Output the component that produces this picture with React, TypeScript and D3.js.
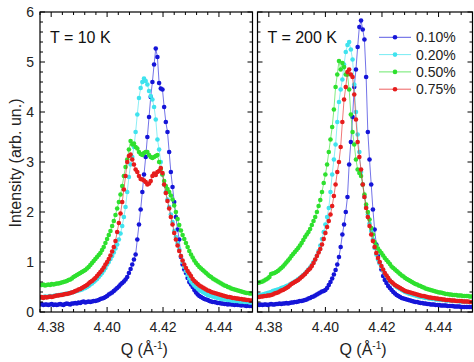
import React from "react";
import * as d3 from "d3";

// Q grid (Å^-1): uniform measurement step
const qStart = 4.376;
const qStep = 0.0006;
const nPts = 127;
const Q = d3.range(nPts).map((i) => +(qStart + i * qStep).toFixed(4));

const seriesNames = ["0.10%", "0.20%", "0.50%", "0.75%"];
const seriesColors = ["#1515d8", "#3fe3ee", "#2ee02e", "#e61c1c"];

// T = 10 K
const b10 = [
  0.15,0.16,0.14,0.15,0.15,0.14,0.15,0.16,0.14,0.15,0.14,
  0.15,0.16,0.15,0.14,0.16,0.17,0.16,0.15,0.17,0.17,
  0.18,0.17,0.19,0.18,0.2,0.21,0.19,0.2,0.21,0.2,
  0.21,0.22,0.22,0.23,0.24,0.26,0.27,0.28,0.3,0.32,
  0.35,0.37,0.39,0.42,0.45,0.48,0.51,0.55,0.58,0.61,
  0.65,0.7,0.78,0.86,0.95,1.05,1.15,1.45,1.75,2.05,
  2.4,2.75,3.1,3.5,3.9,4.3,4.6,4.95,5.27,5.1,
  4.58,4.47,4.45,4.1,3.8,3.6,3.2,2.8,2.5,2.2,
  1.9,1.65,1.45,1.1,0.95,0.85,0.78,0.68,0.6,0.55,
  0.5,0.44,0.39,0.35,0.32,0.3,0.28,0.26,0.25,0.24,
  0.22,0.21,0.2,0.2,0.19,0.18,0.18,0.17,0.17,0.16,
  0.16,0.15,0.16,0.15,0.15,0.14,0.15,0.14,0.14,0.13,0.14,0.13,0.12,0.13,0.12,0.12,
];
const c10 = [
  0.3,0.29,0.3,0.31,0.3,0.31,0.32,0.31,0.32,0.33,0.33,
  0.34,0.34,0.35,0.35,0.36,0.37,0.37,0.38,0.39,0.4,
  0.41,0.42,0.43,0.44,0.45,0.47,0.48,0.5,0.52,0.55,
  0.57,0.6,0.63,0.66,0.7,0.74,0.78,0.83,0.88,0.95,
  1.0,1.06,1.12,1.19,1.27,1.35,1.45,1.57,1.72,1.9,
  2.1,2.4,2.7,2.95,3.1,3.3,3.6,3.95,4.28,4.48,
  4.6,4.67,4.62,4.55,4.42,4.32,4.25,4.1,3.85,3.45,
  3.25,3.0,2.75,2.55,2.4,2.25,2.1,1.95,1.8,1.62,
  1.5,1.38,1.25,1.12,1.0,0.9,0.82,0.74,0.67,0.61,
  0.57,0.53,0.5,0.47,0.44,0.42,0.4,0.38,0.36,0.34,
  0.33,0.32,0.31,0.3,0.29,0.28,0.27,0.26,0.26,0.25,
  0.25,0.24,0.24,0.23,0.23,0.22,0.22,0.22,0.21,0.21,0.21,0.2,0.2,0.2,0.19,0.19,
];
const g10 = [
  0.55,0.54,0.55,0.53,0.54,0.55,0.54,0.56,0.55,0.56,0.57,
  0.57,0.58,0.59,0.6,0.61,0.62,0.64,0.65,0.67,0.7,
  0.72,0.74,0.76,0.78,0.8,0.82,0.84,0.87,0.9,0.94,
  0.98,1.02,1.06,1.1,1.14,1.18,1.24,1.3,1.38,1.46,
  1.54,1.62,1.72,1.82,1.94,2.07,2.2,2.35,2.52,2.72,
  2.9,3.05,3.25,3.42,3.35,3.37,3.3,3.27,3.2,3.16,
  3.14,3.18,3.2,3.2,3.14,3.1,3.08,3.1,3.12,3.14,
  3.0,2.86,2.75,2.62,2.52,2.46,2.4,2.33,2.25,2.13,
  2.0,1.86,1.74,1.63,1.54,1.46,1.38,1.3,1.22,1.15,
  1.09,1.03,0.98,0.94,0.9,0.87,0.84,0.81,0.78,0.75,
  0.72,0.7,0.67,0.65,0.63,0.61,0.59,0.57,0.55,0.53,
  0.52,0.5,0.49,0.47,0.46,0.45,0.44,0.43,0.42,0.41,0.4,0.39,0.38,0.38,0.37,0.37,
];
const r10 = [
  0.29,0.3,0.28,0.3,0.29,0.3,0.31,0.3,0.31,0.32,0.33,
  0.33,0.34,0.34,0.35,0.36,0.36,0.37,0.38,0.39,0.4,
  0.42,0.43,0.45,0.46,0.48,0.5,0.52,0.54,0.57,0.6,
  0.62,0.65,0.68,0.72,0.76,0.8,0.84,0.89,0.95,1.0,
  1.06,1.13,1.21,1.3,1.42,1.6,1.78,1.97,2.2,2.45,
  2.72,3.0,3.12,3.15,3.05,2.95,2.85,2.8,2.72,2.66,
  2.65,2.63,2.6,2.55,2.57,2.62,2.72,2.77,2.74,2.8,
  2.82,2.88,2.78,2.55,2.38,2.22,2.07,1.9,1.75,1.58,
  1.45,1.33,1.22,1.12,1.03,0.95,0.88,0.82,0.77,0.72,
  0.66,0.62,0.59,0.56,0.53,0.51,0.49,0.47,0.45,0.43,
  0.42,0.4,0.39,0.38,0.37,0.36,0.35,0.34,0.33,0.32,
  0.31,0.3,0.3,0.29,0.28,0.28,0.27,0.27,0.26,0.26,0.25,0.25,0.24,0.24,0.23,0.23,
];

// T = 200 K
const b200 = [
  0.15,0.14,0.15,0.14,0.15,0.15,0.14,0.15,0.16,0.15,0.15,
  0.16,0.16,0.17,0.16,0.17,0.17,0.18,0.17,0.18,0.19,
  0.19,0.2,0.2,0.21,0.22,0.22,0.23,0.24,0.25,0.27,
  0.28,0.3,0.31,0.33,0.35,0.37,0.39,0.41,0.42,0.44,
  0.48,0.54,0.6,0.67,0.75,0.84,0.95,1.1,1.3,1.55,
  1.75,2.0,2.3,2.95,3.4,3.9,4.5,4.85,5.3,5.7,
  5.83,5.65,5.45,4.7,3.6,3.05,2.55,2.05,1.65,1.35,
  1.12,0.98,0.85,0.72,0.64,0.58,0.52,0.48,0.44,0.4,
  0.37,0.34,0.32,0.3,0.28,0.27,0.26,0.25,0.24,0.23,
  0.22,0.21,0.2,0.2,0.19,0.18,0.18,0.17,0.17,0.16,
  0.16,0.15,0.15,0.15,0.14,0.14,0.14,0.13,0.13,0.13,
  0.13,0.12,0.12,0.12,0.12,0.11,0.11,0.11,0.11,0.1,0.1,0.1,0.1,0.1,0.1,0.1,
];
const c200 = [
  0.33,0.34,0.34,0.35,0.36,0.37,0.38,0.39,0.4,0.42,0.43,
  0.44,0.45,0.46,0.48,0.49,0.5,0.52,0.53,0.55,0.57,
  0.59,0.61,0.63,0.66,0.68,0.71,0.74,0.77,0.81,0.85,
  0.89,0.94,1.0,1.05,1.13,1.22,1.33,1.46,1.6,1.75,
  1.9,2.08,2.4,2.75,3.05,3.35,3.8,4.2,4.45,4.65,
  4.95,5.2,5.34,5.4,5.25,5.05,4.55,4.0,3.55,3.2,
  2.8,2.55,2.3,2.1,1.95,1.77,1.62,1.45,1.28,1.15,
  1.05,0.97,0.9,0.83,0.77,0.72,0.67,0.63,0.59,0.56,
  0.53,0.5,0.48,0.46,0.44,0.42,0.4,0.39,0.37,0.36,
  0.35,0.34,0.33,0.32,0.31,0.3,0.3,0.29,0.28,0.28,
  0.27,0.27,0.26,0.26,0.25,0.25,0.25,0.24,0.24,0.24,
  0.23,0.23,0.23,0.23,0.22,0.22,0.22,0.22,0.21,0.21,0.21,0.21,0.2,0.2,0.2,0.2,
];
const g200 = [
  0.58,0.59,0.6,0.61,0.63,0.65,0.67,0.7,0.76,0.77,0.78,
  0.8,0.82,0.85,0.88,0.91,0.95,0.99,1.03,1.07,1.12,
  1.16,1.2,1.24,1.28,1.33,1.38,1.44,1.5,1.55,1.6,
  1.66,1.74,1.82,1.9,2.0,2.12,2.24,2.4,2.58,2.75,
  2.95,3.2,3.45,3.7,4.05,4.5,4.75,5.02,4.85,4.98,
  4.9,4.75,4.75,4.45,3.95,3.6,3.35,3.05,2.85,2.78,
  2.72,2.55,2.35,2.15,2.0,1.85,1.68,1.55,1.4,1.33,
  1.27,1.22,1.18,1.13,1.08,1.04,1.0,0.96,0.91,0.88,
  0.85,0.82,0.79,0.76,0.73,0.71,0.68,0.66,0.64,0.62,
  0.6,0.58,0.56,0.55,0.53,0.52,0.5,0.49,0.47,0.46,
  0.45,0.44,0.43,0.42,0.41,0.4,0.39,0.39,0.38,0.37,
  0.36,0.36,0.35,0.35,0.34,0.34,0.34,0.33,0.33,0.33,0.32,0.32,0.32,0.32,0.31,0.31,
];
const r200 = [
  0.3,0.3,0.31,0.31,0.32,0.32,0.33,0.33,0.34,0.35,0.37,
  0.38,0.39,0.41,0.43,0.44,0.46,0.48,0.5,0.53,0.56,
  0.58,0.6,0.62,0.64,0.67,0.7,0.73,0.76,0.8,0.84,
  0.87,0.92,0.98,1.05,1.12,1.19,1.26,1.35,1.46,1.58,
  1.7,1.82,1.95,2.12,2.32,2.55,2.8,3.0,3.3,3.8,
  4.25,4.5,4.8,4.85,4.75,4.7,4.35,3.85,3.4,3.1,
  2.85,2.55,2.3,2.08,1.9,1.72,1.55,1.42,1.3,1.18,
  1.08,1.0,0.92,0.85,0.78,0.73,0.68,0.63,0.6,0.57,
  0.54,0.52,0.5,0.48,0.46,0.44,0.42,0.41,0.4,0.39,
  0.38,0.37,0.36,0.35,0.34,0.33,0.32,0.32,0.31,0.3,
  0.29,0.29,0.28,0.28,0.27,0.27,0.26,0.26,0.25,0.25,
  0.24,0.24,0.24,0.23,0.23,0.23,0.22,0.22,0.22,0.22,0.21,0.21,0.21,0.21,0.2,0.2,
];

const panelLabels = ["T = 10 K", "T = 200 K"];
const panelData = [
  [b10, c10, g10, r10],
  [b200, c200, g200, r200],
];

const xTicks = [4.38, 4.4, 4.42, 4.44];
const xTickLabels = ["4.38", "4.40", "4.42", "4.44"];
const yTicks = [0, 1, 2, 3, 4, 5, 6];
const yTickLabels = ["0", "1", "2", "3", "4", "5", "6"];

const FONT = "Arial, 'Liberation Sans', Helvetica, sans-serif";
const TOP = 12;
const BOTTOM = 312;
const panelX = [
  [40, 252.5],
  [257.5, 472.5],
];
const xDomain = [4.376, 4.452];

const y = d3.scaleLinear().domain([0, 6]).range([BOTTOM, TOP]);

function Panel({ idx }: { idx: number }) {
  const [x0, x1] = panelX[idx];
  const x = d3.scaleLinear().domain(xDomain).range([x0, x1]);
  const line = d3
    .line<number>()
    .x((_, i) => x(Q[i]))
    .y((d) => y(d));
  const xMinor = d3
    .range(1094, 1114)
    .filter((k) => k % 5 !== 0)
    .map((k) => k * 0.004);
  const yMinor = d3
    .range(0, 31)
    .filter((k) => k % 5 !== 0)
    .map((k) => k * 0.2);
  const clipId = `clip${idx}`;
  const series = panelData[idx];
  return (
    <g>
      <defs>
        <clipPath id={clipId}>
          <rect x={x0} y={TOP} width={x1 - x0} height={BOTTOM - TOP} />
        </clipPath>
      </defs>
      <g clipPath={`url(#${clipId})`}>
        {series.map((s, si) => (
          <g key={si}>
            <path d={line(s) || ""} fill="none" stroke={seriesColors[si]} strokeOpacity={0.6} strokeWidth={1} />
            {s.map((v, i) => (
              <circle key={i} cx={x(Q[i])} cy={y(v)} r={2.3} fill={seriesColors[si]} />
            ))}
          </g>
        ))}
      </g>
      {/* ticks */}
      <g stroke="#000" strokeWidth={1}>
        {xTicks.map((t) => (
          <g key={t}>
            <line x1={x(t)} x2={x(t)} y1={BOTTOM} y2={BOTTOM - 5} />
            <line x1={x(t)} x2={x(t)} y1={TOP} y2={TOP + 5} />
          </g>
        ))}
        {xMinor.map((t) => (
          <g key={t}>
            <line x1={x(t)} x2={x(t)} y1={BOTTOM} y2={BOTTOM - 3} />
            <line x1={x(t)} x2={x(t)} y1={TOP} y2={TOP + 3} />
          </g>
        ))}
        {yTicks.map((t) => (
          <g key={t}>
            <line x1={x0} x2={x0 + 5} y1={y(t)} y2={y(t)} />
            <line x1={x1} x2={x1 - 5} y1={y(t)} y2={y(t)} />
          </g>
        ))}
        {yMinor.map((t) => (
          <g key={t}>
            <line x1={x0} x2={x0 + 3} y1={y(t)} y2={y(t)} />
            <line x1={x1} x2={x1 - 3} y1={y(t)} y2={y(t)} />
          </g>
        ))}
      </g>
      <rect x={x0} y={TOP} width={x1 - x0} height={BOTTOM - TOP} fill="none" stroke="#000" strokeWidth={1.2} />
      {xTicks.map((t, i) => (
        <text key={t} x={x(t)} y={332} textAnchor="middle" fontSize={14} fontFamily={FONT} fill="#222">
          {xTickLabels[i]}
        </text>
      ))}
      <text x={(x0 + x1) / 2 - 2} y={355} textAnchor="middle" fontSize={16} fontFamily={FONT} fill="#222">
        <tspan>Q (Å</tspan>
        <tspan dy={-6} fontSize={10}>-1</tspan>
        <tspan dy={6}>)</tspan>
      </text>
      <text x={x0 + 10} y={43} fontSize={16} fontFamily={FONT} fill="#111">
        {panelLabels[idx]}
      </text>
      {idx === 0 &&
        yTicks.map((t, i) => (
          <text key={t} x={34} y={y(t)} dy="0.36em" textAnchor="end" fontSize={14} fontFamily={FONT} fill="#222">
            {yTickLabels[i]}
          </text>
        ))}
    </g>
  );
}

function Legend() {
  const lx0 = 379;
  const lx1 = 411;
  const rows = [37.3, 54.6, 71.9, 89.2];
  return (
    <g>
      {seriesNames.map((n, i) => (
        <g key={n}>
          <line x1={lx0} x2={lx1} y1={rows[i]} y2={rows[i]} stroke={seriesColors[i]} strokeOpacity={0.7} strokeWidth={1} />
          <circle cx={(lx0 + lx1) / 2} cy={rows[i]} r={2.3} fill={seriesColors[i]} />
          <text x={416} y={rows[i]} dy="0.36em" fontSize={14} fontFamily={FONT} fill="#222">
            {n}
          </text>
        </g>
      ))}
    </g>
  );
}

export default function App() {
  return (
    <svg
      width={474}
      height={362}
      viewBox="0 0 474 362"
      style={{ position: "absolute", left: 0, top: 0, background: "#fff" }}
    >
      <rect x={0} y={0} width={474} height={362} fill="#fff" />
      <Panel idx={0} />
      <Panel idx={1} />
      <Legend />
      <text
        transform="translate(21,163) rotate(-90)"
        textAnchor="middle"
        fontSize={16}
        fontFamily={FONT}
        fill="#222"
      >
        Intensity (arb. un.)
      </text>
    </svg>
  );
}
